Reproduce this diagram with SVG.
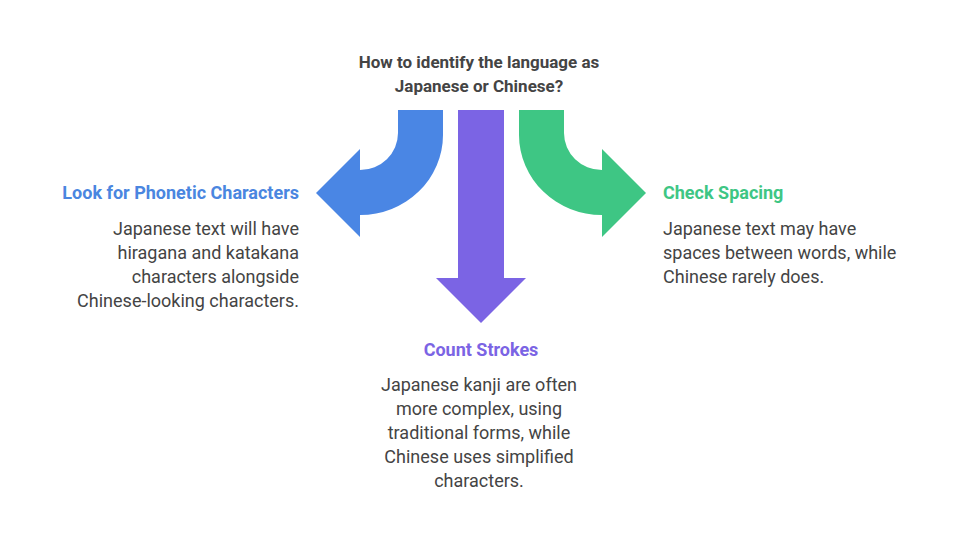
<svg xmlns="http://www.w3.org/2000/svg" width="962" height="542" viewBox="0 0 962 542">
<style>
text{font-family:Roboto,"Liberation Sans",sans-serif}
.t{font-size:17px;font-weight:bold;fill:#444}
.h{font-size:18px;font-weight:bold}
.b{font-size:18px;fill:#444}
</style>
<rect width="962" height="542" fill="#fff"/>
<g id="connectors">
<path fill="#4a86e4" d="M398,110 H443 V135 A83,80 0 0 1 360,215 V237 L316,193 L360,149 V170 A38,37 0 0 0 398,133 Z"/>
<path fill="#7b64e4" d="M458,110 H504 V278 H526 L481,323 L436,278 H458 Z"/>
<path fill="#3ec684" d="M564,110 H519 V135 A83,80 0 0 0 602,215 V237 L646,193 L602,149 V170 A38,37 0 0 1 564,133 Z"/>
</g>
<g id="title"><text class="t" text-anchor="middle" x="479" y="68">How to identify the language as</text><text class="t" text-anchor="middle" x="479" y="92">Japanese or Chinese?</text></g>
<g id="phonetic" text-anchor="end"><text class="h" x="299" y="199" fill="#4a86e0">Look for Phonetic Characters</text>
<text class="b" x="299" y="235">Japanese text will have</text><text class="b" x="299" y="259">hiragana and katakana</text><text class="b" x="299" y="283">characters alongside</text><text class="b" x="299" y="307">Chinese-looking characters.</text></g>
<g id="spacing"><text class="h" x="663" y="199" fill="#3ec684">Check Spacing</text>
<text class="b" x="663" y="235">Japanese text may have</text><text class="b" x="663" y="259">spaces between words, while</text><text class="b" x="663" y="283">Chinese rarely does.</text></g>
<g id="strokes" text-anchor="middle"><text class="h" x="481" y="356" fill="#7b64e4">Count Strokes</text>
<text class="b" x="479" y="391">Japanese kanji are often</text><text class="b" x="479" y="415">more complex, using</text><text class="b" x="479" y="439">traditional forms, while</text><text class="b" x="479" y="463">Chinese uses simplified</text><text class="b" x="479" y="487">characters.</text></g>
</svg>
